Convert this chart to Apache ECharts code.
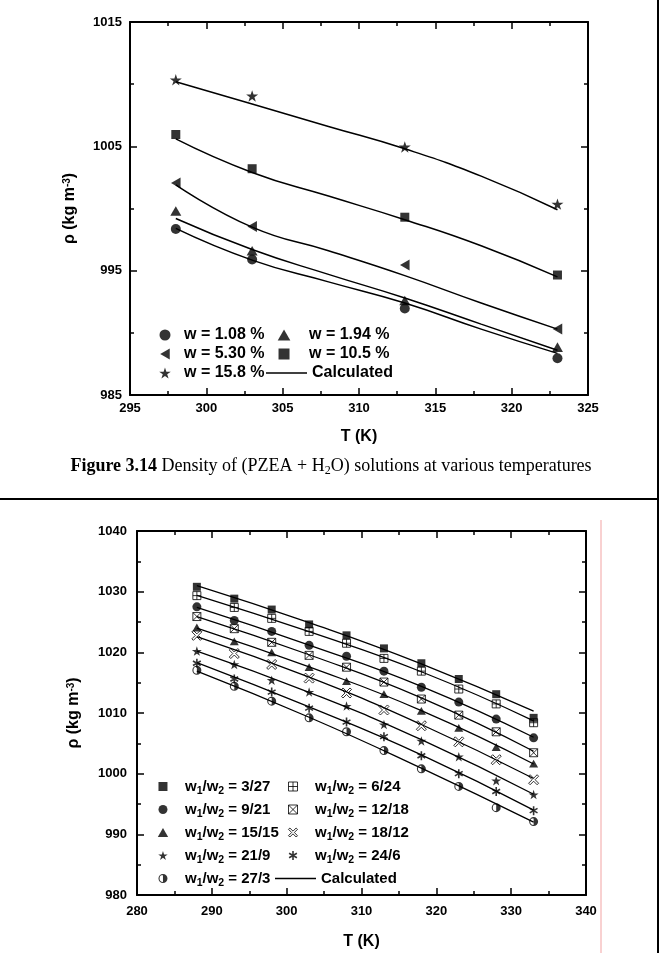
<!DOCTYPE html>
<html>
<head>
<meta charset="utf-8">
<script src="https://cdn.jsdelivr.net/npm/echarts@6/dist/echarts.min.js"></script>
<style>
    html, body { margin: 0; padding: 0; background: #fff; }
    #chart { width: 662px; height: 953px; }
</style>
</head>
<body>
<div id="chart"></div>
<script type="text/javascript">

    // ---- upper figure: density of PZEA + H2O ----
    const topT = [298, 303, 313, 323];
    const topW108 = [998.35, 995.9, 991.95, 987.95];
    const topW194 = [999.8, 996.6, 992.6, 988.85];
    const topW530 = [1002.05, 998.55, 995.45, 990.3];
    const topW105 = [1005.95, 1003.2, 999.3, 994.65];
    const topW158 = [1010.35, 1009.05, 1004.95, 1000.35];
    // calculated curves
    const topCalcT = [298, 303, 308, 313, 318, 323];
    const topCalc108 = [998.4, 995.85, 994.1, 992.4, 990.3, 988.35];
    const topCalc194 = [999.2, 996.7, 994.7, 992.8, 990.7, 988.6];
    const topCalc530 = [1001.9, 998.5, 996.6, 994.6, 992.4, 990.3];
    const topCalc105 = [1005.6, 1002.9, 1001.0, 999.1, 997.0, 994.5];
    const topCalc158 = [1010.2, 1008.4, 1006.6, 1004.8, 1002.6, 999.9];

    // ---- lower figure: w1/w2 mixtures ----
    const botT = [288, 293, 298, 303, 308, 313, 318, 323, 328, 333];
    const botRatios = ['3/27', '6/24', '9/21', '12/18', '15/15', '18/12', '21/9', '24/6', '27/3'];
    const r3_27 = [1030.8, 1028.85, 1027.05, 1024.6, 1022.8, 1020.65, 1018.2, 1015.6, 1013.1, 1009.2];
    const r6_24 = [1029.35, 1027.4, 1025.6, 1023.45, 1021.5, 1019.0, 1016.9, 1013.95, 1011.5, 1008.4];
    const r9_21 = [1027.5, 1025.25, 1023.45, 1021.15, 1019.35, 1016.9, 1014.25, 1011.8, 1009.0, 1005.9];
    const r12_18 = [1025.9, 1023.9, 1021.65, 1019.5, 1017.55, 1015.1, 1012.3, 1009.65, 1006.9, 1003.45];
    const r15_15 = [1024.1, 1021.8, 1020.0, 1017.55, 1015.25, 1013.1, 1010.35, 1007.55, 1004.4, 1001.65];
    const r18_12 = [1022.8, 1019.8, 1018.0, 1015.75, 1013.3, 1010.5, 1007.9, 1005.25, 1002.3, 999.0];
    const r21_9 = [1020.2, 1018.0, 1015.4, 1013.45, 1011.15, 1008.1, 1005.4, 1002.8, 998.85, 996.55];
    const r24_6 = [1018.2, 1015.6, 1013.45, 1010.8, 1008.5, 1006.1, 1002.95, 1000.0, 997.05, 993.9];
    const r27_3 = [1017.05, 1014.4, 1011.95, 1009.2, 1006.9, 1003.8, 1000.8, 997.9, 994.4, 992.1];
    const botCalcT = [288, 303, 318, 333];
    const botCalc = [
        [1031.0, 1024.9, 1018.1, 1010.3],
        [1029.4, 1023.4, 1016.8, 1008.7],
        [1027.4, 1021.2, 1014.4, 1006.0],
        [1025.9, 1019.6, 1012.5, 1003.7],
        [1024.0, 1017.6, 1010.4, 1001.6],
        [1022.6, 1015.9, 1008.1, 999.2],
        [1020.2, 1013.4, 1005.6, 996.6],
        [1018.3, 1011.0, 1003.1, 994.0],
        [1016.9, 1009.3, 1000.9, 992.0]
    ];

    const FONT = '"Liberation Sans", Arial, sans-serif';
    const SERIF = '"Liberation Serif", "Times New Roman", serif';

    // marker shapes
    const SYM = {
        star: 'path://M50 0 L61.2 34.5 L97.6 34.5 L68.2 55.9 L79.4 90.5 L50 69.1 L20.6 90.5 L31.8 55.9 L2.4 34.5 L38.8 34.5 Z',
        tri: 'path://M50 0 L100 87 L0 87 Z',
        leftTri: 'path://M0 50 L87 0 L87 100 Z',
        sq: 'path://M0 0 L10 0 L10 10 L0 10 Z',
        boxPlus: 'path://M0 0 L10 0 L10 10 L0 10 Z M5 0 L5 10 M0 5 L10 5',
        boxX: 'path://M0 0 L10 0 L10 10 L0 10 Z M0 0 L10 10 M10 0 L0 10',
        hollowX: 'path://M0 1.5 L1.5 0 L5 3.5 L8.5 0 L10 1.5 L6.5 5 L10 8.5 L8.5 10 L5 6.5 L1.5 10 L0 8.5 L3.5 5 Z',
        aster: 'path://M5 0 L5 10 M0.67 2.5 L9.33 7.5 M9.33 2.5 L0.67 7.5',
        half: 'path://M5 0 A5 5 0 1 1 5 10 A5 5 0 1 1 5 0 Z M5 1.2 A3.8 3.8 0 1 0 5 8.8 A3.8 3.8 0 1 0 5 1.2 Z M5 0 A5 5 0 0 1 5 10 Z',
        bar: 'path://M0 0 L100 0 L100 3.5 L0 3.5 Z'
    };
    const filled = { color: '#000', borderWidth: 0 };
    const hollow = { color: 'rgba(0,0,0,0)', borderColor: '#000', borderWidth: 1 };
    const asterStyle = { color: 'rgba(0,0,0,0)', borderColor: '#000', borderWidth: 1.6 };

    function pairs(xs, ys) {
        return xs.map(function (x, i) { return [x, ys[i]]; });
    }

    function axisPair(grid, dir, min, max, interval, name, nameGap, labelMargin) {
        const base = {
            type: 'value', gridIndex: grid, min: min, max: max, interval: interval,
            axisLine: { lineStyle: { color: '#000', width: 2 } },
            axisTick: { inside: true, length: 7, lineStyle: { color: '#000', width: 1.5 } },
            minorTick: { show: true, splitNumber: 2, length: 4, lineStyle: { color: '#000', width: 1.5 } },
            splitLine: { show: false },
            minorSplitLine: { show: false }
        };
        const main = Object.assign({}, base, {
            position: dir === 'x' ? 'bottom' : 'left',
            axisLabel: {
                color: '#000', fontFamily: FONT, fontWeight: 'bold', fontSize: 13, margin: labelMargin,
                formatter: function (v) { return String(v); }
            },
            name: name,
            nameLocation: 'middle',
            nameGap: nameGap,
            nameRotate: dir === 'x' ? 0 : 90,
            nameTextStyle: {
                color: '#000', fontFamily: FONT, fontWeight: 'bold', fontSize: 16,
                rich: { sup: { fontFamily: FONT, fontWeight: 'bold', fontSize: 10, verticalAlign: 'top', lineHeight: 10 } }
            }
        });
        const mirror = Object.assign({}, base, {
            position: dir === 'x' ? 'top' : 'right',
            axisLabel: { show: false }
        });
        return [main, mirror];
    }

    const xTop = axisPair(0, 'x', 295, 325, 5, 'T (K)', 34, 7);
    const yTop = axisPair(0, 'y', 985, 1015, 10, 'ρ (kg m{sup|-3})', 52, 8);
    const xBot = axisPair(1, 'x', 280, 340, 10, 'T (K)', 39, 10);
    const yBot = axisPair(1, 'y', 980, 1040, 10, 'ρ (kg m{sup|-3})', 55, 10);

    const series = [];
    // upper calculated curves
    [topCalc108, topCalc194, topCalc530, topCalc105, topCalc158].forEach(function (ys) {
        series.push({
            name: 'Calculated', type: 'line', xAxisIndex: 0, yAxisIndex: 0, smooth: true,
            showSymbol: false, data: pairs(topCalcT, ys), color: '#000',
            lineStyle: { color: '#000', width: 1.5 }, z: 2
        });
    });
    const topMarks = [
        ['w = 1.08 %', topW108, 'circle', 10],
        ['w = 1.94 %', topW194, SYM.tri, 11],
        ['w = 5.30 %', topW530, SYM.leftTri, 11],
        ['w = 10.5 %', topW105, SYM.sq, 9],
        ['w = 15.8 %', topW158, SYM.star, 12]
    ];
    topMarks.forEach(function (m) {
        series.push({
            name: m[0], type: 'scatter', xAxisIndex: 0, yAxisIndex: 0,
            symbol: m[2], symbolSize: m[3], symbolKeepAspect: true,
            itemStyle: filled, data: pairs(topT, m[1]), z: 3
        });
    });

    // lower calculated lines
    botCalc.forEach(function (ys) {
        series.push({
            name: 'Calculated', type: 'line', xAxisIndex: 2, yAxisIndex: 2, smooth: true,
            showSymbol: false, data: pairs(botCalcT, ys), color: '#000',
            lineStyle: { color: '#000', width: 1.3 }, z: 2
        });
    });
    const botSeriesVals = [r3_27, r6_24, r9_21, r12_18, r15_15, r18_12, r21_9, r24_6, r27_3];
    const botSymbols = [
        [SYM.sq, filled, 8], [SYM.boxPlus, hollow, 8], ['circle', filled, 9],
        [SYM.boxX, hollow, 8], [SYM.tri, filled, 9], [SYM.hollowX, hollow, 10],
        [SYM.star, filled, 10], [SYM.aster, asterStyle, 9], [SYM.half, filled, 9]
    ];
    const botNames = botRatios.map(function (r) { return 'w1/w2 = ' + r; });
    botNames.forEach(function (nm, i) {
        series.push({
            name: nm, type: 'scatter', xAxisIndex: 2, yAxisIndex: 2,
            symbol: botSymbols[i][0], symbolSize: botSymbols[i][2], symbolKeepAspect: true,
            itemStyle: botSymbols[i][1], data: pairs(botT, botSeriesVals[i]), z: 3
        });
    });

    function legendItem(name, icon, style) {
        return { name: name, icon: icon, itemStyle: style };
    }
    const topText = { color: '#000', fontFamily: FONT, fontWeight: 'bold', fontSize: 16, lineHeight: 19 };
    const botRich = {
        t: { color: '#000', fontFamily: FONT, fontWeight: 'bold', fontSize: 15, lineHeight: 20, verticalAlign: 'middle' },
        s: { color: '#000', fontFamily: FONT, fontWeight: 'bold', fontSize: 10.5, lineHeight: 10, verticalAlign: 'bottom' }
    };
    function botFormat(name) {
        if (name === 'Calculated') return '{t|Calculated}';
        return '{t|w}{s|1}{t|/w}{s|2}{t| = ' + name.split('= ')[1] + '}';
    }
    function botLegend(idx) {
        return legendItem(botNames[idx], botSymbols[idx][0], botSymbols[idx][1]);
    }
    const calcItem = { name: 'Calculated', icon: SYM.bar, itemStyle: { color: '#000', borderWidth: 0 } };
    const legendBase = { orient: 'vertical', padding: 0, itemGap: 0, selectedMode: false, symbolKeepAspect: true };

    // legend "left" is the left edge of the widest icon (icons sit centred in their item box)
    const legends = [
        Object.assign({}, legendBase, {
            left: 159.2, top: 325.5, itemWidth: 28, itemHeight: 11, textStyle: topText,
            data: [legendItem('w = 1.08 %', 'circle', filled), legendItem('w = 5.30 %', SYM.leftTri, filled),
                legendItem('w = 15.8 %', SYM.star, filled)]
        }),
        Object.assign({}, legendBase, {
            left: 277.7, top: 325.5, itemWidth: 40, itemHeight: 11, textStyle: topText,
            data: [legendItem('w = 1.94 %', SYM.tri, filled), legendItem('w = 10.5 %', SYM.sq, filled)]
        }),
        Object.assign({}, legendBase, {
            left: 266, top: 363.5, itemWidth: 41, itemHeight: 11, textStyle: topText,
            data: [calcItem]
        }),
        Object.assign({}, legendBase, {
            left: 157.8, top: 779, itemWidth: 34, itemHeight: 9, itemGap: 5.5,
            textStyle: { rich: botRich }, formatter: botFormat,
            data: [botLegend(0), botLegend(2), botLegend(4), botLegend(6), botLegend(8)]
        }),
        Object.assign({}, legendBase, {
            left: 288, top: 779, itemWidth: 34, itemHeight: 9, itemGap: 5.5,
            textStyle: { rich: botRich }, formatter: botFormat,
            data: [botLegend(1), botLegend(3), botLegend(5), botLegend(7)]
        }),
        Object.assign({}, legendBase, {
            left: 275, top: 871, itemWidth: 41, itemHeight: 9,
            textStyle: { rich: botRich }, formatter: botFormat,
            data: [calcItem]
        })
    ];

    const chart = echarts.init(document.getElementById('chart'));
    const option = {
        animation: false,
        backgroundColor: '#fff',
        grid: [
            { left: 130, top: 22, width: 458, height: 373 },
            { left: 137, top: 531, width: 449, height: 364 }
        ],
        xAxis: [xTop[0], xTop[1], xBot[0], xBot[1]],
        yAxis: [yTop[0], yTop[1], yBot[0], yBot[1]],
        legend: legends,
        series: series,
        graphic: [
            {
                type: 'text', left: 'center', top: 457,
                style: {
                    text: '{b|Figure 3.14} Density of (PZEA + H{s|2}O) solutions at various temperatures',
                    font: '18px ' + SERIF, fill: '#000',
                    rich: {
                        b: { fontFamily: SERIF, fontWeight: 'bold', fontSize: 18, lineHeight: 22 },
                        s: { fontFamily: SERIF, fontSize: 12, lineHeight: 12, verticalAlign: 'bottom' }
                    }
                }
            },
            { type: 'line', shape: { x1: 0, y1: 499, x2: 658, y2: 499 }, style: { stroke: '#000', lineWidth: 2 } },
            { type: 'line', shape: { x1: 658, y1: 0, x2: 658, y2: 953 }, style: { stroke: '#000', lineWidth: 2 } },
            { type: 'line', shape: { x1: 601, y1: 520, x2: 601, y2: 953 }, style: { stroke: '#f2a3a3', lineWidth: 1 } }
        ]
    };
    chart.setOption(option);
</script>
</body>
</html>
